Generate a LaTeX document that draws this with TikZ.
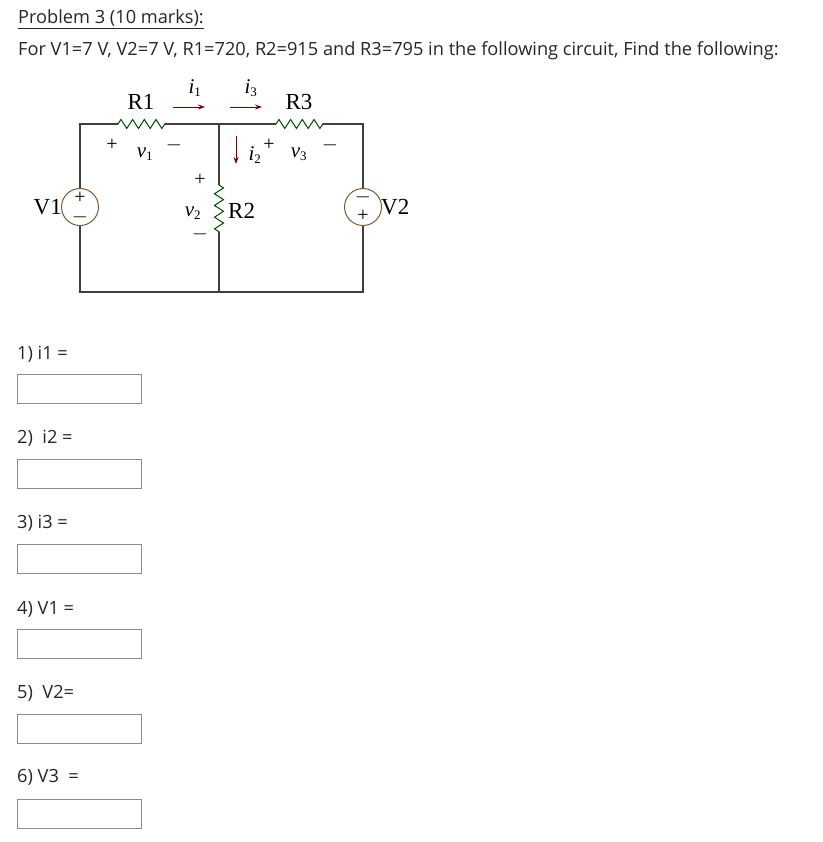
\documentclass[tikz,border=0pt]{standalone}
\usepackage{fontspec}
\setmainfont{Open Sans}
\newfontfamily\ser{Liberation Serif}
\usetikzlibrary{decorations.pathmorphing,arrows.meta}
\begin{document}
\begin{tikzpicture}[x=1pt,y=-1pt,
 wire/.style={draw=black!75,line width=1.2pt},
 res/.style={draw=green!30!black,line width=1pt,decorate,decoration={zigzag,segment length=11.7pt,amplitude=4.5pt}},
 src/.style={circle,draw=brown!70!black,line width=1pt,minimum size=37pt,inner sep=0pt,fill=white},
 lab/.style={font=\ser\fontsize{23}{23}\selectfont,inner sep=0pt},
 sm/.style={font=\ser\itshape\fontsize{21}{21}\selectfont,inner sep=0pt},
 pm/.style={inner sep=0pt,font=\ser\fontsize{20}{20}\selectfont},
 cur/.style={-{Stealth[length=7pt,width=5pt,fill=red]},draw=red!50!black,line width=0.9pt},
 txt/.style={anchor=west,inner sep=0pt,font=\fontsize{18.2}{18}\selectfont,text=black!85},
 ans/.style={draw=black!45,line width=0.8pt}]
\useasboundingbox (0,0) rectangle (822,842);
\node[txt] (t1) at (18,19) {\underline{Problem 3 (10 marks):}};
\node[txt] (t2) at (18,51) {For V1=7 V, V2=7 V, R1=720, R2=915 and R3=795 in the following circuit, Find the following:};
% circuit
\coordinate (tl) at (80,124); \coordinate (tm) at (219,124); \coordinate (tr) at (363,124);
\coordinate (bl) at (80,292); \coordinate (bm) at (219,292); \coordinate (br) at (363,292);
\coordinate (r1a) at (118,124); \coordinate (r1b) at (165,124);
\coordinate (r3a) at (276,124); \coordinate (r3b) at (323,124);
\coordinate (r2a) at (219,185); \coordinate (r2b) at (219,232);
\node[src] (v1) at (80,207) {};
\node[src] (v2) at (363,207) {};
\draw[wire] (v1.north) -- (tl) -- (r1a) (r1b) -- (tm) -- (r3a) (r3b) -- (tr) -- (v2.north)
 (v2.south) -- (br) -- (bl) -- (v1.south) (tm) -- (r2a) (r2b) -- (bm);
\draw[res] (r1a) -- (r1b);
\draw[res] (r3a) -- (r3b);
\draw[res] (r2a) -- (r2b);
\node[pm] (p1) at (80,198) {+};
\node[pm] (m1) at (80,217) {$-$};
\node[pm] (m2) at (363,197) {$-$};
\node[pm] (p2) at (363,216) {+};
\node[lab,anchor=east] (lv1) at (62,207) {V1};
\node[lab,anchor=west] (lv2) at (381,207) {V2};
\node[lab] (lr1) at (141,102) {R1};
\node[lab] (lr3) at (299,102) {R3};
\node[lab,anchor=west] (lr2) at (228,211) {R2};
\node[sm] (li1) at (195,88) {i\textsubscript{\upshape\fontsize{13}{13}\selectfont 1}};
\node[sm] (li3) at (251,88) {i\textsubscript{\upshape\fontsize{13}{13}\selectfont 3}};
\draw[cur] (173,107) -- (205,107);
\draw[cur] (230,107) -- (262,107);
\draw[cur] (236,136) -- (236,164);
\node[sm] (li2) at (255,155) {i\textsubscript{\upshape\fontsize{13}{13}\selectfont 2}};
\node[sm] (lv1s) at (145,154) {v\textsubscript{\upshape\fontsize{13}{13}\selectfont 1}};
\node[sm] (lv3s) at (299,154) {v\textsubscript{\upshape\fontsize{13}{13}\selectfont 3}};
\node[sm] (lv2s) at (193,213) {v\textsubscript{\upshape\fontsize{13}{13}\selectfont 2}};
\foreach \n/\x/\y/\s in {a/112/145/+,b/174/145/$-$,c/269/145/+,d/330/145/$-$,e/200/180/+,f/200/234/$-$}
  \node[pm] (s\n) at (\x,\y) {\s};
% questions
\foreach \n/\y/\t in {1/354/{1) i1 =},2/438/{2)\ \ i2 =},3/523/{3) i3 =},4/609/{4) V1 =},5/693/{5)\ \ V2=},6/777/{6) V3\ \ =}}{
  \node[txt] (q\n) at (17,\y) {\t};
}
\foreach \n/\y in {1/374,2/459,3/544,4/629,5/714,6/799}
  \draw[ans] (17,\y) rectangle (141,\y+29);
\end{tikzpicture}
\end{document}
